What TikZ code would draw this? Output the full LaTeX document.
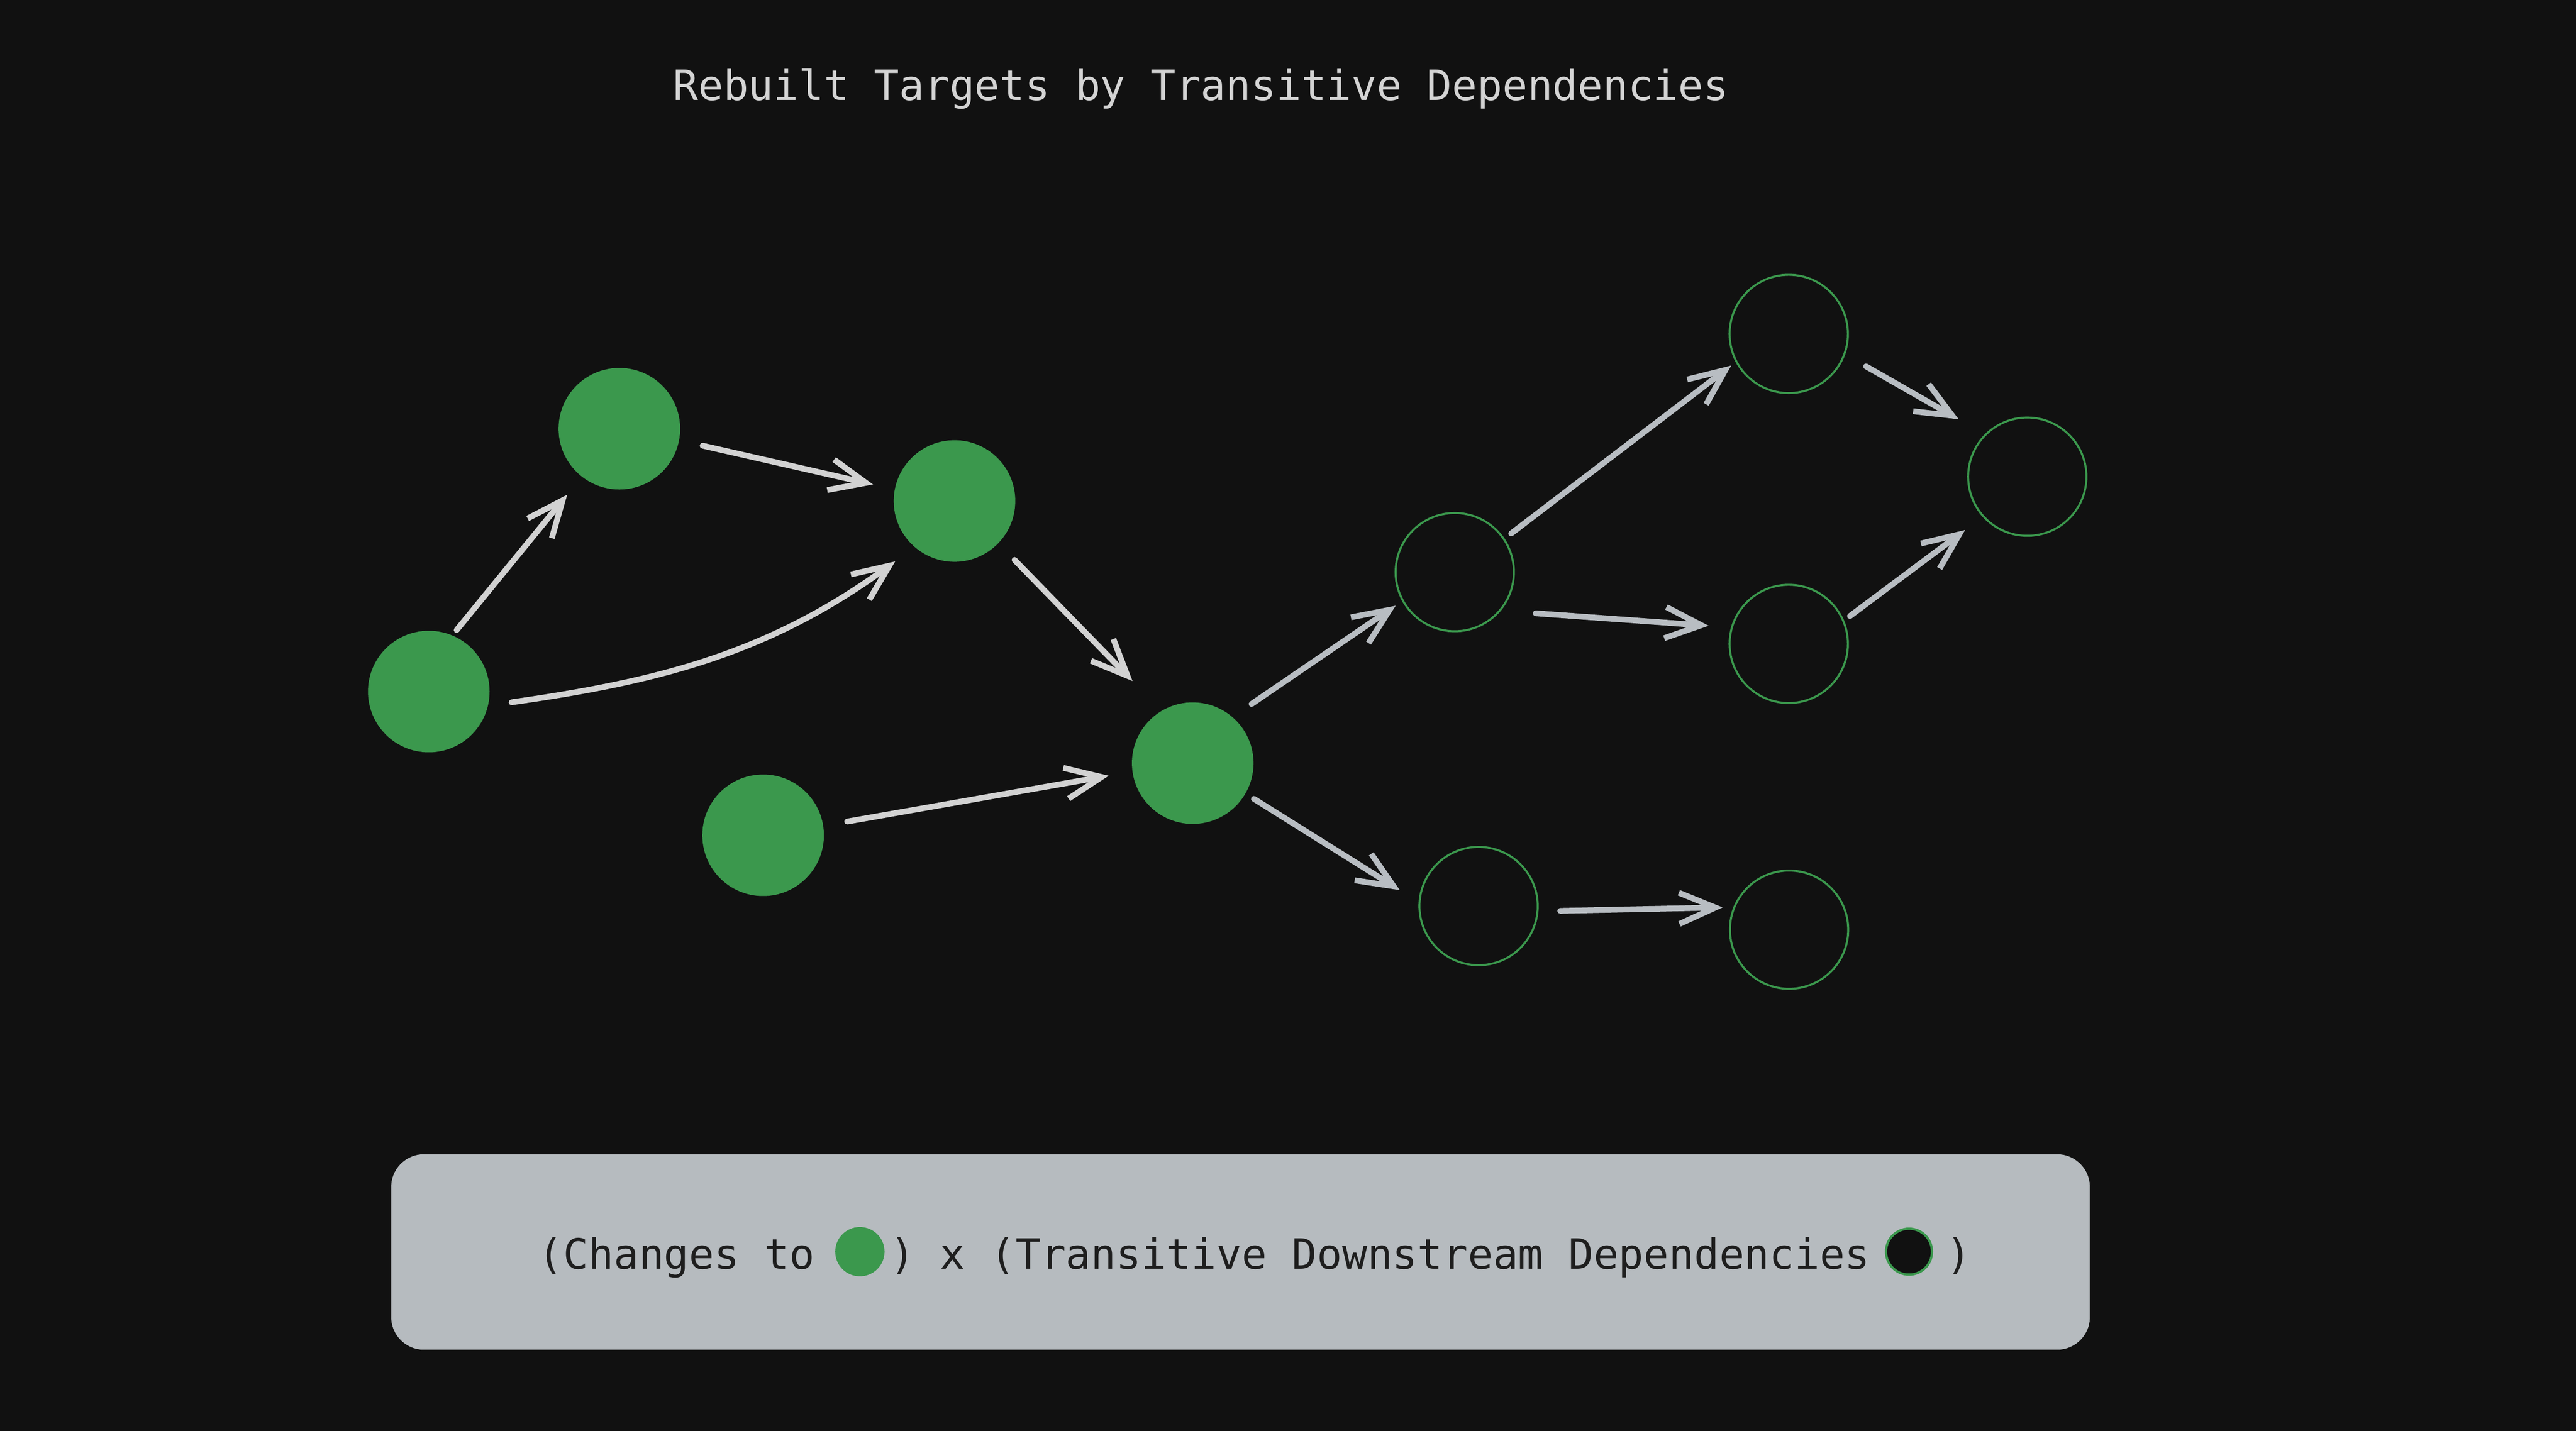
\documentclass[tikz,border=0pt]{standalone}
\usepackage{fontspec}
\setmonofont{DejaVu Sans Mono}
\usetikzlibrary{arrows.meta}
\definecolor{bgdark}{HTML}{111111}
\definecolor{nodegreen}{HTML}{3B984D}
\definecolor{linkgray}{HTML}{D2D2D2}
\definecolor{linkblue}{HTML}{B8BDC2}
\definecolor{boxgray}{HTML}{B6BBBF}
\definecolor{titlegray}{HTML}{D4D4D4}
\definecolor{inkdark}{HTML}{1E1E1E}

\begin{document}
\begin{tikzpicture}[x=0.1mm, y=-0.1mm,
    changed/.style={circle, fill=nodegreen, minimum size=7.4mm, inner sep=0pt},
    downstream/.style={circle, draw=nodegreen, line width=0.35pt, minimum size=7.2mm, inner sep=0pt},
    link/.style={line width=1pt, line cap=round, -{Straight Barb[length=2.2mm, width=1.9mm]}},
    legendtext/.style={font=\ttfamily\fontsize{7.23}{9}\selectfont, text=inkdark, inner sep=0pt, anchor=base west},
    legenddot/.style={circle, minimum size=3mm, inner sep=0pt}]
    % page and background
    \path[fill=bgdark] (0,0) rectangle (1568,871.1);

    % title
    \node[font=\ttfamily\fontsize{7.23}{9}\selectfont, text=titlegray, inner sep=0pt, anchor=base] (title) at (731,61) {Rebuilt Targets by Transitive Dependencies};

    % changed targets (filled)
    \foreach \n/\x/\y in {c1/261/421, c2/377/261, c3/581/305, c4/464.5/508.5, c5/726/464.6}
      \node[changed] (\n) at (\x,\y) {};

    % downstream targets (outlined)
    \foreach \n/\x/\y in {d1/885.5/348.3, d2/1088.8/203.3, d3/1234/290.2, d4/1088.8/392, d5/900/551.6, d6/1089/566}
      \node[downstream] (\n) at (\x,\y) {};

    % edges between changed targets
    \foreach \s/\sa/\t/\ta/\ss/\ts in {c1/67.6/c2/232.9/0.35/1.35, c2/-11.3/c3/169.4/1.4/1.29, c3/-44.6/c5/121.8/1.35/2.47, c4/9.5/c5/188.2/1.41/1.4}
      \draw[link, linkgray, shorten <=\ss mm, shorten >=\ts mm] (\s.\sa) -- (\t.\ta);
    \draw[link, linkgray, shorten <=1.38mm, shorten >=1.41mm] (c1.-13.5) .. controls (400,415) and (468,398) .. (c3.229.7);

    % edges into the downstream targets
    \foreach \s/\sa/\t/\ta/\ss/\ts in {c5/49.7/d1/209.4/1.34/0.48, c5/-30.2/d5/176.4/0.54/1.35, d1/34.6/d2/208/0.5/0.34, d1/-40.1/d4/164.1/2.13/1.36, d2/-20.3/d3/135/1.45/1.83, d4/23.1/d3/222.9/0.44/1.33, d5/-5.6/d6/158/1.32/0.65}
      \draw[link, linkblue, shorten <=\ss mm, shorten >=\ts mm] (\s.\sa) -- (\t.\ta);

    % legend
    \node[fill=boxgray, rounded corners=2mm, minimum width=103.4mm, minimum height=11.9mm, inner sep=0pt] (legend) at (755.1,762.2) {};
    \node[legendtext] (lgL) at (327,772.5) {(Changes to};
    \node[legenddot, fill=nodegreen] (dot1) at (523.4,762) {};
    \node[legendtext] (lgM) at (541,772.5) {) x (Transitive Downstream Dependencies};
    \node[legenddot, fill=bgdark, draw=nodegreen, line width=0.4pt, minimum size=2.8mm] (dot2) at (1162,762) {};
    \node[legendtext] (lgR) at (1184,772.5) {)};
  \end{tikzpicture}
\end{document}
